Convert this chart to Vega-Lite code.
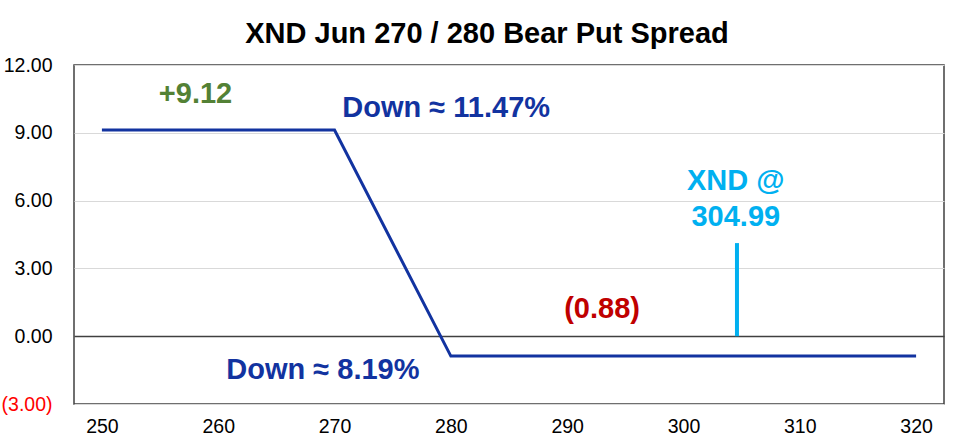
{
  "$schema": "https://vega.github.io/schema/vega-lite/v6.json",
  "autosize": "none",
  "width": 870,
  "height": 339,
  "padding": {"left": 74, "top": 65, "right": 30, "bottom": 40},
  "background": "white",
  "title": {
    "text": "XND Jun 270 / 280 Bear Put Spread",
    "font": "Liberation Sans",
    "fontSize": 29,
    "fontWeight": "bold",
    "color": "black",
    "anchor": "middle",
    "baseline": "alphabetic",
    "dx": -22,
    "dy": 40,
    "offset": 23
  },
  "config": {
    "font": "Liberation Sans",
    "view": {"stroke": "#404040", "strokeWidth": 1.5},
    "axis": {
      "labelFont": "Liberation Sans",
      "labelFontSize": 19.5,
      "labelColor": "black",
      "ticks": false,
      "domain": false,
      "title": null
    }
  },
  "datasets": {
    "payoff": [
      {"price": 250, "pnl": 9.12},
      {"price": 270, "pnl": 9.12},
      {"price": 280, "pnl": -0.88},
      {"price": 320, "pnl": -0.88}
    ],
    "notes": [
      {"label": "+9.12", "price": 258.05, "pnl": 10.72, "kind": "max"},
      {"label": "Down ≈ 11.47%", "price": 279.6, "pnl": 10.1, "kind": "move"},
      {"label": "Down ≈ 8.19%", "price": 269.0, "pnl": -1.5, "kind": "move"},
      {"label": "(0.88)", "price": 293.0, "pnl": 1.2, "kind": "min"},
      {"label": "XND @", "price": 304.5, "pnl": 6.87, "kind": "spot"},
      {"label": "304.99", "price": 304.5, "pnl": 5.27, "kind": "spot"}
    ],
    "spot": [
      {"price": 304.6, "pnl": 4.12}
    ]
  },
  "layer": [
    {
      "data": {"name": "payoff"},
      "mark": {"type": "line", "color": "#1233a0", "strokeWidth": 3},
      "encoding": {
        "x": {
          "field": "price",
          "type": "quantitative",
          "scale": {"domain": [247.6, 322.4], "nice": false, "zero": false},
          "axis": {"values": [250, 260, 270, 280, 290, 300, 310, 320], "grid": false, "labelPadding": 13}
        },
        "y": {
          "field": "pnl",
          "type": "quantitative",
          "scale": {"domain": [-3, 12], "nice": false},
          "axis": {
            "values": [-3, 0, 3, 6, 9, 12],
            "grid": true,
            "gridColor": {"condition": {"test": "datum.value === 0", "value": "#404040"}, "value": "#d9d9d9"},
            "gridWidth": {"condition": {"test": "datum.value === 0", "value": 1.5}, "value": 1},
            "labelPadding": 22,
            "labelExpr": "datum.value < 0 ? '(' + format(-datum.value, '.2f') + ')' : format(datum.value, '.2f')",
            "labelColor": {"condition": {"test": "datum.value < 0", "value": "#ff0000"}, "value": "black"}
          }
        }
      }
    },
    {
      "data": {"name": "spot"},
      "mark": {"type": "rule", "color": "#00b0f0", "strokeWidth": 4},
      "encoding": {
        "x": {"field": "price", "type": "quantitative"},
        "y": {"field": "pnl", "type": "quantitative"},
        "y2": {"datum": 0}
      }
    },
    {
      "data": {"name": "notes"},
      "mark": {"type": "text", "fontSize": 29, "fontWeight": "bold", "font": "Liberation Sans", "baseline": "middle", "align": "center"},
      "encoding": {
        "x": {"field": "price", "type": "quantitative"},
        "y": {"field": "pnl", "type": "quantitative"},
        "text": {"field": "label"},
        "color": {
          "field": "kind",
          "type": "nominal",
          "scale": {"domain": ["max", "move", "min", "spot"], "range": ["#538135", "#1233a0", "#c00000", "#00b0f0"]},
          "legend": null
        }
      }
    }
  ]
}
